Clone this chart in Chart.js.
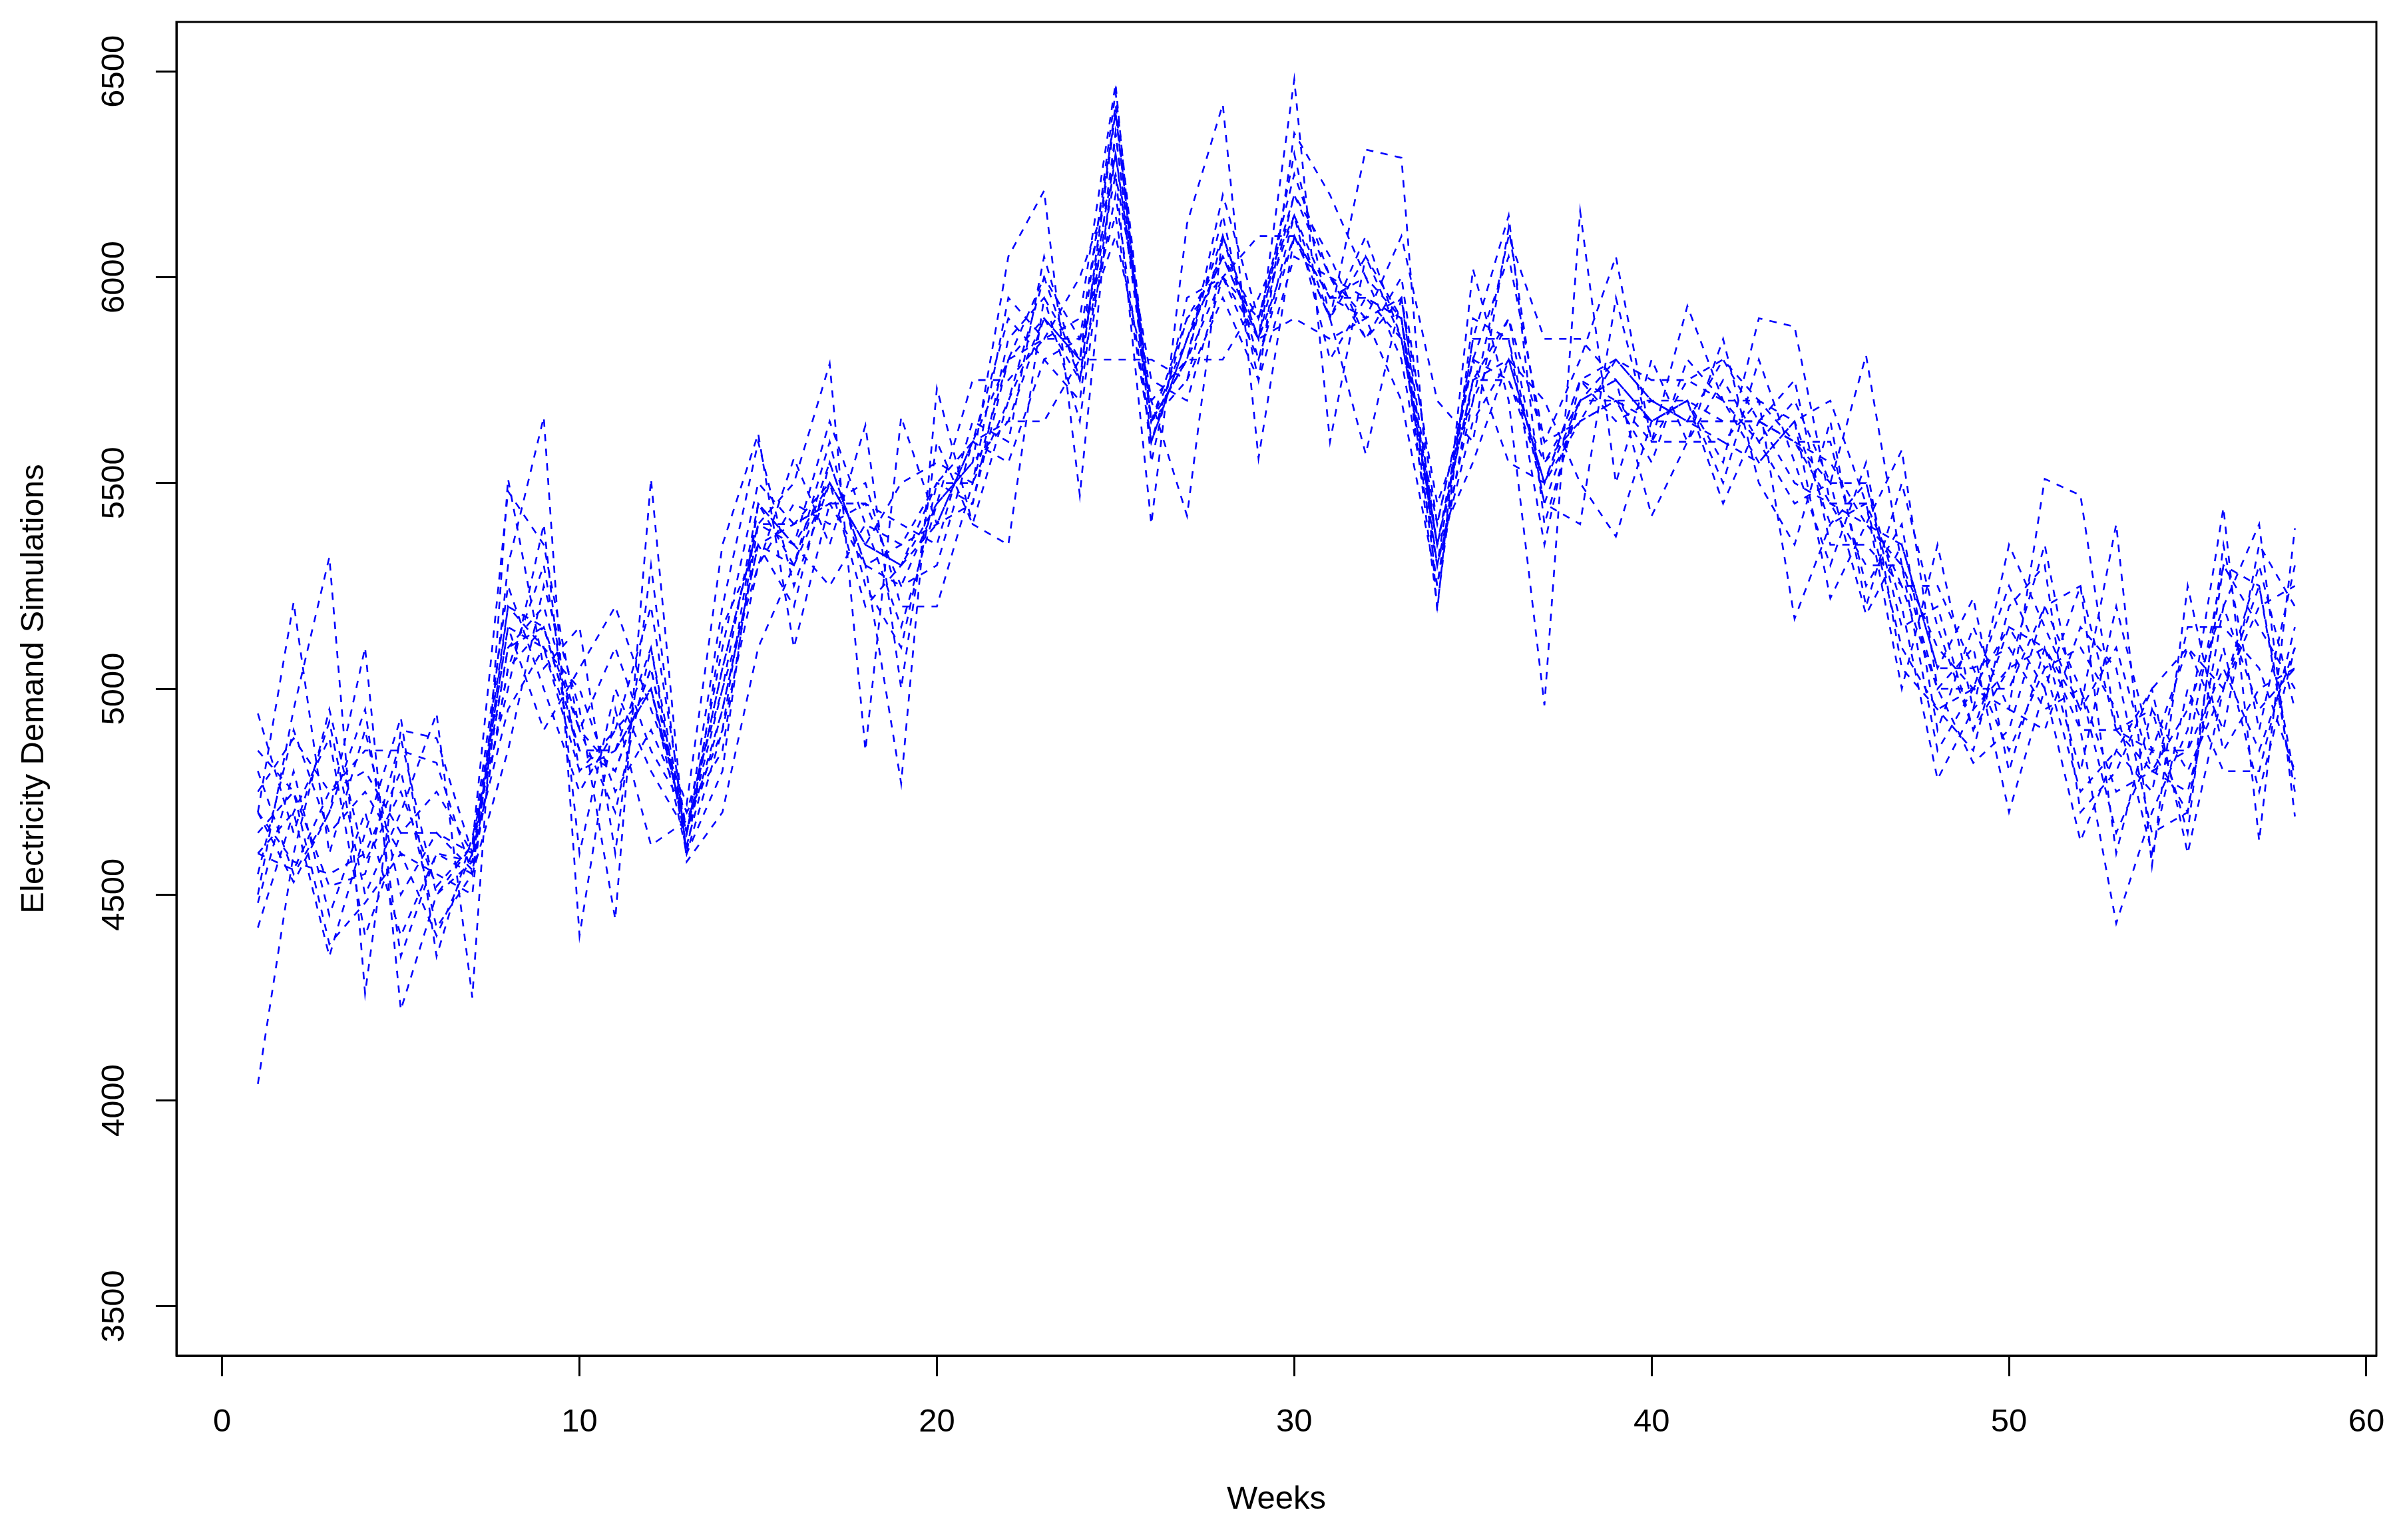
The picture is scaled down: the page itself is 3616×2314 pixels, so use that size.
<!DOCTYPE html>
<html><head><meta charset="utf-8">
<script src="https://cdn.jsdelivr.net/npm/chart.js@4.4.1/dist/chart.umd.min.js"></script>
<style>html,body{margin:0;padding:0;background:#fff;overflow:hidden}canvas{display:block}</style>
</head><body>
<canvas id="c" width="3616" height="2314" style="width:3616px;height:2314px"></canvas>
<script>
const weeks = [1,2,3,4,5,6,7,8,9,10,11,12,13,14,15,16,17,18,19,20,21,22,23,24,25,26,27,28,29,30,31,32,33,34,35,36,37,38,39,40,41,42,43,44,45,46,47,48,49,50,51,52,53,54,55,56,57,58];
const xTicks = [0,10,20,30,40,50,60];
const yTicks = [3500,4000,4500,5000,5500,6000,6500];
const xTitle = "Weeks";
const yTitle = "Electricity Demand Simulations";

const sim01 = [4040,4600,4950,4580,4750,4520,4620,5480,5350,4900,
  4700,5100,4600,4900,5450,5300,5600,5250,5100,5500,
  5600,5900,5800,5700,6350,5650,5800,6200,5900,6250,
  6000,5900,5700,5250,5850,6150,5400,5700,5800,5700,
  5650,5600,5700,5170,5400,5500,5200,4780,4950,5050,
  5100,4900,4430,4700,4900,5440,4630,5390];
const sim02 = [4700,5210,4600,4900,4500,4650,4560,5050,5300,4800,
  4900,5200,4650,5100,5500,5400,5450,5500,5200,5200,
  5500,5800,6000,5750,6200,5600,5900,6000,5800,6100,
  5900,5570,5950,5300,5700,5900,5600,5800,6050,5600,
  5930,5700,5600,5700,5500,5810,5300,5100,5000,4950,
  5510,5470,4900,4800,4950,5200,5400,4690];
const sim03 = [4500,4950,5320,4260,4900,4880,4600,5200,5100,5000,
  4750,4900,4700,5000,5300,5560,5350,5640,5000,5600,
  5400,5700,6000,5850,6100,5700,5420,6100,5850,6300,
  5900,6100,5850,5350,5550,5800,5700,5500,5370,5650,
  5700,5550,5900,5880,5450,5400,5580,5000,5100,4700,
  5000,4630,4850,5000,4600,5000,5250,4780];
const sim04 = [4800,4550,4700,5100,4220,4500,4580,5100,5200,4900,
  4800,5050,4620,4950,5350,5200,5550,5300,5350,5400,
  5600,5650,5900,5800,5800,5800,5750,5950,5750,6050,
  6000,5850,6000,5400,5800,5550,5500,5650,5700,5600,
  5750,5700,5550,5650,5400,5450,5000,5350,4950,5350,
  5150,4950,5400,4570,5250,4850,5000,5050];
const sim05 = [4600,4700,4350,4650,4930,4350,4640,5000,5400,4600,
  5000,4800,4650,5200,5600,5250,5500,5200,5300,5500,
  5450,5850,5950,5650,6300,5650,5900,6050,5900,6150,
  5800,5950,5900,5200,5900,5850,5350,5750,5650,5700,
  5650,5800,5650,5600,5500,5180,5350,5050,5050,5100,
  4950,5000,4750,4800,4750,5100,4750,5100];
const sim06 = [4940,4650,4920,4500,4700,4940,4250,5510,5050,5150,
  4600,5300,4600,4800,5450,5350,5650,5400,5150,5450,
  5750,5750,5850,5900,6470,5550,5950,6000,5900,6200,
  6050,5850,5950,5450,5700,6100,5850,5850,5750,5650,
  5700,5650,5650,5750,5350,5350,5250,5000,4820,4900,
  5200,5250,4900,4850,5100,5000,5200,5250];
const sim07 = [4550,4900,4650,4750,4600,4550,4500,5300,5660,4400,
  4950,4620,4680,4900,5300,5450,5400,5450,5400,5350,
  5650,5600,6050,5750,6400,5650,5800,6150,5750,6350,
  6200,6000,5900,5250,5750,5900,5450,5400,5950,5600,
  5600,5600,5550,5650,5700,5450,5100,4950,5000,5250,
  5050,5100,4950,4600,5000,4800,4800,5150];
const sim08 = [4700,4580,4550,4600,4800,4420,4550,4850,5250,4950,
  4440,5510,4580,4700,5100,5300,5500,5350,5500,5550,
  5500,5950,5850,6000,6250,5750,5700,6000,6100,6100,
  5950,6000,5800,5300,5650,5800,5500,5750,5800,5750,
  5750,5800,5700,5600,5550,5400,5350,5050,5220,4800,
  5100,4950,5100,4800,4850,5300,5150,5000];
const sim09 = [4480,4800,4450,4700,4400,4600,4580,5150,4900,5050,
  5200,4950,4720,5350,5620,5100,5450,5450,5250,5300,
  5600,5550,5800,5850,6150,5600,5850,6100,5850,5900,
  5850,5900,6100,5700,5600,6120,5550,5700,5750,5420,
  5600,5750,5600,5450,5500,5500,5150,5200,4900,5050,
  5350,4900,4900,4950,4800,5000,5300,4950];
const sim10 = [4750,4880,4750,4800,4650,4750,4600,4950,5100,4850,
  4850,5100,4650,5050,5400,5500,5790,4850,5660,5400,
  5450,5800,5900,5750,6420,5600,5850,6050,5850,6200,
  6000,5950,5850,5400,5800,6050,5600,5650,5700,5700,
  5700,5450,5650,5500,5450,5450,5250,5250,5050,4850,
  5050,4750,4850,4750,5150,5150,5050,4800];
const sim11 = [4850,4750,4520,4550,4880,4500,4620,5250,5000,4750,
  4900,5000,4600,5150,5350,5300,5550,5300,4770,5730,
  5400,5350,5950,5800,6300,5700,5800,5800,5950,6150,
  5900,6050,5850,5350,5750,5750,5500,5750,5700,5550,
  5800,5700,5700,5650,5220,5400,5300,4850,5000,5000,
  5200,5000,4650,4850,4850,5050,4850,5100];
const sim12 = [4600,4560,4750,4850,4850,4820,4550,5050,5150,4900,
  5100,4850,4700,4850,5400,5400,5500,5350,5300,5450,
  5550,6050,6210,5470,6350,5650,5750,6100,5800,6150,
  5950,5950,5900,5300,5850,5850,5450,5700,5700,5650,
  5650,5650,5650,5600,5450,5300,5300,5000,5000,5150,
  5100,4800,5200,4850,4700,5200,4950,5050];
const sim13 = [4420,4700,4880,4400,4650,4650,4600,5150,5100,4800,
  4850,5000,4650,5000,5450,5350,5250,5400,5350,5500,
  5500,5700,5900,5800,6250,5400,6130,6420,5560,6100,
  5950,5900,5950,5350,5800,5750,5550,5650,5800,5700,
  5650,5650,5650,5600,5600,5250,5400,4900,5150,4950,
  4900,5150,5050,4650,4700,5300,5250,4750];
const sim14 = [4700,4530,4700,4950,4350,4600,4550,5200,5150,4850,
  4850,5000,4650,5050,5400,5350,5500,5350,5300,5400,
  5600,5800,5850,5850,6400,5650,5850,6050,5850,6480,
  5600,6050,5900,5350,5750,5800,5500,5700,5750,5650,
  5700,5500,5800,5550,5300,5550,5050,4950,4850,5200,
  5300,4700,4800,5000,5100,4900,5350,5200];
const sim15 = [4650,4750,4380,4480,4600,4400,4600,5100,5150,4850,
  4800,5050,4650,4950,5350,5400,5450,5300,5250,5450,
  5550,5650,5650,5800,6450,5650,5800,6000,5850,6100,
  5900,6310,6290,5190,6020,5700,4960,6160,5500,5800,
  5600,5850,5500,5350,5650,5200,5500,5150,4900,5150,
  5000,5250,4600,4950,4650,5350,4900,5300];

const simulations = [sim01,sim02,sim03,sim04,sim05,sim06,sim07,sim08,sim09,sim10,sim11,sim12,sim13,sim14,sim15];

const FONT = '"Liberation Sans", Arial, Helvetica, sans-serif';
const AREA = {left: 265, right: 3570, top: 33, bottom: 2037, W: 3616, H: 2314};

const datasets = simulations.map((s, i) => ({
  label: 'Simulation ' + (i + 1),
  data: weeks.map((w, j) => ({x: w, y: s[j]})),
  borderColor: 'rgb(0,0,255)',
  borderWidth: 2.6,
  borderDash: [11, 11],
  pointRadius: 0,
  tension: 0,
  fill: false
}));

const boxPlugin = {
  id: 'rbox',
  afterDraw(chart) {
    const a = chart.chartArea, ctx = chart.ctx;
    ctx.save();
    ctx.strokeStyle = '#000';
    ctx.lineWidth = 3;
    ctx.strokeRect(a.left, a.top, a.right - a.left, a.bottom - a.top);
    ctx.restore();
  }
};

function zeroPad(scale) {
  scale.paddingTop = 0; scale.paddingBottom = 0;
  scale.paddingLeft = 0; scale.paddingRight = 0;
}

new Chart(document.getElementById('c'), {
  type: 'line',
  data: {datasets},
  plugins: [boxPlugin],
  options: {
    responsive: false,
    devicePixelRatio: 1,
    animation: false,
    events: [],
    layout: {padding: {left: 0, top: AREA.top, right: AREA.W - AREA.right, bottom: 0}},
    plugins: {legend: {display: false}, tooltip: {enabled: false}},
    scales: {
      x: {
        type: 'linear',
        min: -1.28, max: 60.28,
        afterBuildTicks: s => { s.ticks = xTicks.map(v => ({value: v})); },
        afterFit: s => { s.height = AREA.H - AREA.bottom; zeroPad(s); },
        grid: {display: true, drawOnChartArea: false, drawTicks: true, tickLength: 31, tickWidth: 3, tickColor: '#000'},
        border: {display: true, color: '#000', width: 3},
        ticks: {font: {family: FONT, size: 49}, color: '#000', padding: 40, maxRotation: 0, minRotation: 0, autoSkip: false,
                callback: v => String(v)},
        title: {display: true, text: xTitle, font: {family: FONT, size: 49}, color: '#000', padding: {top: 0, bottom: 31}}
      },
      y: {
        type: 'linear',
        min: 3380, max: 6620,
        afterBuildTicks: s => { s.ticks = yTicks.map(v => ({value: v})); },
        afterFit: s => { s.width = AREA.left; zeroPad(s); },
        grid: {display: true, drawOnChartArea: false, drawTicks: true, tickLength: 31, tickWidth: 3, tickColor: '#000'},
        border: {display: true, color: '#000', width: 3},
        ticks: {font: {family: FONT, size: 49}, color: '#000', padding: 7, minRotation: 90, maxRotation: 90, crossAlign: 'center', autoSkip: false,
                callback: v => String(v)},
        title: {display: true, text: yTitle, font: {family: FONT, size: 49}, color: '#000', padding: {top: 22, bottom: 0}}
      }
    }
  }
});
</script>
</body></html>
